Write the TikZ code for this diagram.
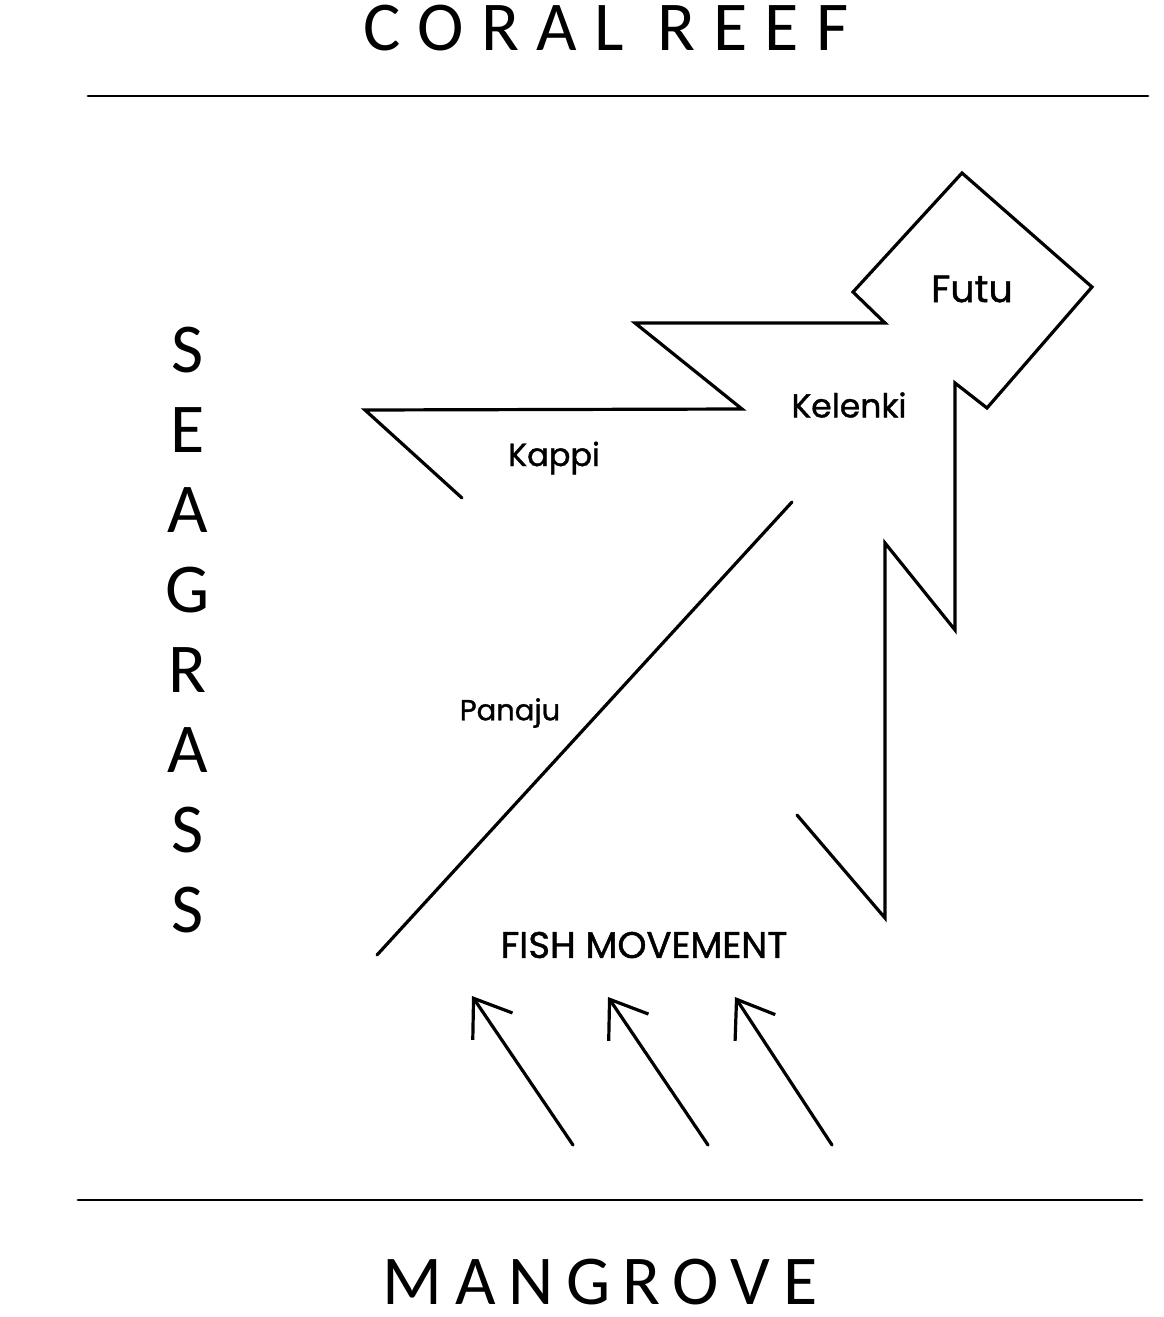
\documentclass[tikz,border=0pt]{standalone}
\usepackage{fontspec}
\setmainfont{Carlito}
\newfontfamily\lblfont{Poppins}[FakeBold=1.2]
\usetikzlibrary{arrows.meta}

\tikzset{
  zone/.style={inner sep=0pt, font=\fontsize{70}{72}\selectfont\addfontfeatures{LetterSpace=#1}},
  zoneletter/.style={font=\fontsize{70}{72}\selectfont, inner sep=0pt},
  fish/.style={inner sep=0pt, font=\lblfont\fontsize{#1}{#1}\selectfont},
}

\begin{document}
\begin{tikzpicture}[line cap=round,line join=miter,x=1pt,y=-1pt,line width=3.2pt,
    >={Straight Barb[length=34pt,width=48pt]}]
      \useasboundingbox (0,0) rectangle (1164,1317);
      % zones
      \node[zone=25] (coral) at (606,28) {CORAL REEF};
      \node[zone=18] (mangrove) at (600,1282) {MANGROVE};
      \foreach \ch [count=\i from 0] in {S,E,A,G,R,A,S,S}
        \node[zoneletter] (sea\i) at (188,{350+80*\i}) {\ch};
      \draw[line width=2.8pt] (88,96) -- (1148,96);
      \draw[line width=2.8pt] (78,1200) -- (1142,1200);
      % fish paths
      \draw (462,498) -- (365,410) -- (742,409) -- (635,323) -- (885,323) -- (853,292)
        -- (962,173) -- (1092,287) -- (987,408) -- (955,383) -- (955,630)
        -- (885,543) -- (885,918) -- (797,815);
      \draw (377,955) -- (792,502);
      % names
      \node[fish=38] (futu) at (972,289) {Futu};
      \node[fish=33] (kelenki) at (849,405) {Kelenki};
      \node[fish=32] (kappi) at (554,458) {Kappi};
      \node[fish=29] (panaju) at (510,713) {Panaju};
      \node[fish=37] (movement) at (644,945) {FISH MOVEMENT};
      % arrows
      \foreach \tx/\ty/\hx/\hy [count=\k] in {573/1145/472/996, 708/1145/608/997, 832/1145/735/997} {
        \coordinate (tail\k) at (\tx,\ty);
        \coordinate (head\k) at (\hx,\hy);
        \draw [->] (tail\k) -- (head\k);
      }
\end{tikzpicture}
\end{document}
